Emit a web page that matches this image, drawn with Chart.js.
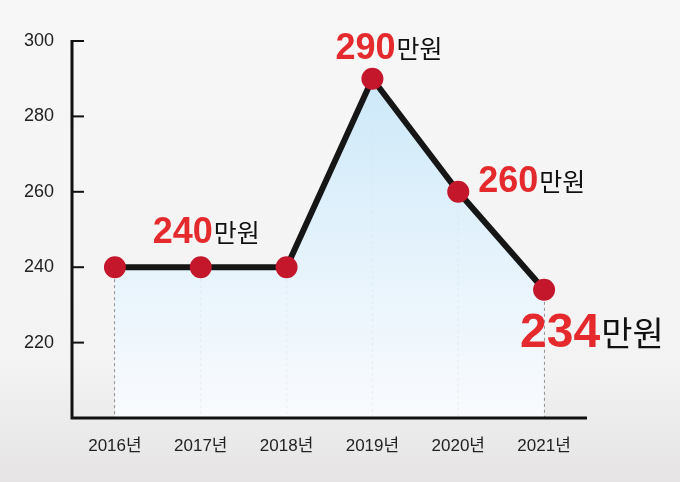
<!DOCTYPE html>
<html><head><meta charset="utf-8">
<script src="https://cdn.jsdelivr.net/npm/chart.js@4/dist/chart.umd.min.js"></script>
<style>html,body{margin:0;padding:0;background:#f4f4f4}#w{width:680px;height:482px}</style>
</head><body><div id="w"><canvas id="c"></canvas></div>
<script>
const categories=['2016년','2017년','2018년','2019년','2020년','2021년'];
const values=[240,240,240,290,260,234];
const yTicks=[220,240,260,280,300];
// labels: index, number text, size, dx, dy
const annotations=[[1,'240',36,-48,-24],[3,'290',36,-37,-20],[4,'260',36,20,0],[5,'234',48,-24,57]];
const FONT='"Liberation Sans Narrow","Liberation Sans",Arial,sans-serif';
const KFONT='"Noto Sans CJK KR",sans-serif';
const deco={id:'deco',
 beforeDraw(ch){const c=ch.ctx;const g=c.createLinearGradient(0,0,0,482);g.addColorStop(0,'#f7f7f7');g.addColorStop(0.75,'#f3f3f3');g.addColorStop(1,'#e6e4e4');c.save();c.fillStyle=g;c.fillRect(0,0,680,482);c.restore();},
 beforeDatasetsDraw(ch){const c=ch.ctx,m=ch.getDatasetMeta(0),b=ch.chartArea.bottom;c.save();c.strokeStyle='#8a8a8a';c.lineWidth=1.6;c.setLineDash([3,3]);m.data.forEach(p=>{c.beginPath();c.moveTo(p.x,p.y);c.lineTo(p.x,b);c.stroke();});c.restore();},
 afterDraw(ch){const c=ch.ctx,y=ch.scales.y,a=ch.chartArea,m=ch.getDatasetMeta(0);c.save();c.strokeStyle='#111';c.lineWidth=3;c.beginPath();c.moveTo(a.left,a.top-1);c.lineTo(a.left,a.bottom);c.lineTo(a.right,a.bottom);c.stroke();c.lineWidth=2;yTicks.forEach(v=>{const py=y.getPixelForValue(v);c.beginPath();c.moveTo(a.left,py);c.lineTo(a.left+12,py);c.stroke();});
 annotations.forEach(([i,t,s,dx,dy])=>{const p=m.data[i];let x=p.x+dx,by=p.y+dy;c.font='bold '+s+'px '+FONT;c.fillStyle='#e52a2e';c.textBaseline='alphabetic';c.fillText(t,x,by);x+=c.measureText(t).width+1;c.font=Math.round(s*0.7)+'px '+KFONT;c.fillStyle='#111';c.fillText('만원',x,by-1);});
 c.restore();}};
new Chart(document.getElementById('c'),{type:'line',
 data:{labels:categories,datasets:[{data:values,borderColor:'#161616',borderWidth:6,pointRadius:8,pointHoverRadius:8,pointBackgroundColor:'#c4172c',pointBorderColor:'#c4172c',borderJoinStyle:'miter',tension:0,
  fill:'origin',backgroundColor:(ctx)=>{const a=ctx.chart.chartArea;if(!a)return 'rgba(200,230,248,0.6)';const g=ctx.chart.ctx.createLinearGradient(0,a.top,0,a.bottom);g.addColorStop(0,'#c7e6f8');g.addColorStop(1,'rgba(250,252,255,0.9)');return g;}}]},
 options:{responsive:true,maintainAspectRatio:false,animation:false,devicePixelRatio:1,
  layout:{padding:{top:41,right:93,left:0,bottom:0}},
  plugins:{legend:{display:false},tooltip:{enabled:false}},
  scales:{
   x:{offset:true,grid:{display:false},border:{display:false},ticks:{color:'#222',font:{size:17,family:'"Liberation Sans Narrow","Liberation Sans",Arial,"Noto Sans CJK KR",sans-serif'},padding:10},afterFit(s){s.height=64;}},
   y:{min:200,max:300,afterBuildTicks(s){s.ticks=yTicks.map(v=>({value:v}));},grid:{display:false},border:{display:false},ticks:{color:'#222',font:{size:18,family:'"Liberation Sans",Arial,sans-serif'},padding:10},afterFit(s){s.width=72;}}
  }},
 plugins:[deco]});
</script></body></html>
